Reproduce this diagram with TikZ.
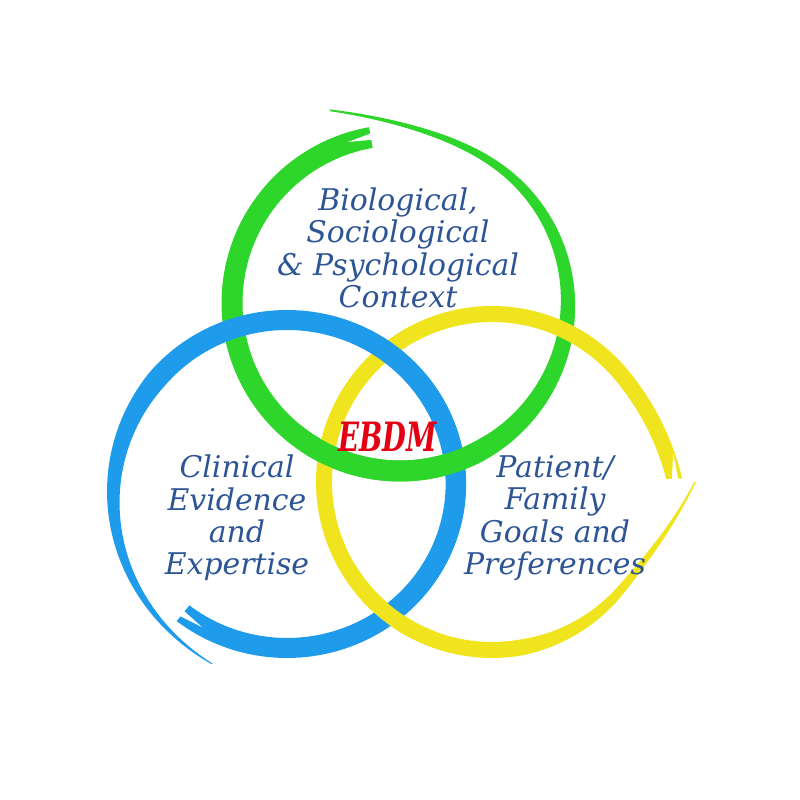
\documentclass[tikz,border=0pt]{standalone}
\usepackage{fontspec}
\usepackage{graphicx}
\newfontfamily\handfont{DejaVu Serif}
\definecolor{ringgreen}{RGB}{46,214,44}
\definecolor{ringblue}{RGB}{30,155,235}
\definecolor{ringyellow}{RGB}{240,228,30}
\definecolor{textblue}{RGB}{45,85,150}
\definecolor{ebdmred}{RGB}{228,0,18}
% brush ring: colour, first angle, last angle (rr and ww set by the scope)
\newcommand{\brushstroke}[3]{%
  \fill[#1] plot[domain=#2:#3,samples=180] ({(rr(\x)+ww(\x)/2)*cos(\x)},{(rr(\x)+ww(\x)/2)*sin(\x)})
    -- plot[domain=#3:#2,samples=180] ({(rr(\x)-ww(\x)/2)*cos(\x)},{(rr(\x)-ww(\x)/2)*sin(\x)}) -- cycle;
  % split brush end
  \fill[white] ({#2-1}:{rr(#2)-0.025}) -- ({#2+8}:{rr(#2)+0.012}) -- ({#2-1}:{rr(#2)+0.045}) -- cycle;}

\begin{document}
\begin{tikzpicture}[
    greenring/.style={shift={(4.00,4.97)},
      declare function={rr(\t)=1.68+0.37*(max(0,\t-410)/60)^3; ww(\t)=0.21-0.19*max(0,\t-300)/170;}},
    bluering/.style={shift={(2.87,3.16)},xscale=1.03,
      declare function={rr(\t)=1.64+0.30*(max(0,\t-500)/108)^2; ww(\t)=0.20-0.19*max(0,\t-500)/108;}},
    yellowring/.style={shift={(4.92,3.18)},
      declare function={rr(\t)=1.68+0.15*(max(0,40-\t)/40)^2+0.35*(max(0,\t-320)/40)^2; ww(\t)=0.16-0.145*max(0,\t-280)/80;}},
    ringtext/.style={font=\handfont\itshape\fontsize{8.5}{9.2}\selectfont, text=textblue, align=center},
    ebdm/.style={font=\handfont\bfseries\itshape\fontsize{11.5}{12}\selectfont, text=ebdmred}
  ]
    \useasboundingbox[fill=white] (0,0) rectangle (8,8);
    %% green ring (top)
    \begin{scope}[greenring]
        \brushstroke{ringgreen}{100}{470}
    \end{scope}
    %% yellow ring (right)
    \begin{scope}[yellowring]
        \brushstroke{ringyellow}{1}{360}
    \end{scope}
    %% blue ring (left)
    \begin{scope}[bluering]
        \brushstroke{ringblue}{232}{608}
    \end{scope}
    %% green over blue and yellow at the bottom of the green ring
    \begin{scope}
        \clip (3.0,3.1) rectangle (4.85,3.85);
        \begin{scope}[greenring]
            \brushstroke{ringgreen}{100}{470}
        \end{scope}
    \end{scope}
    %% yellow over blue at the bottom
    \begin{scope}
        \clip (3.55,1.6) rectangle (4.35,2.4);
        \begin{scope}[yellowring]
            \brushstroke{ringyellow}{1}{360}
        \end{scope}
    \end{scope}
    %% texts
    \node[ringtext] (context) at (3.98,5.52) {Biological,\\Sociological\\\& Psychological\\Context};
    \node[ringtext] (clinical) at (2.37,2.82) {Clinical\\Evidence\\and\\Expertise};
    \node[ringtext] (patient) at (5.55,2.82) {Patient/\\Family\\Goals and\\Preferences};
    \node[ebdm] (ebdmlabel) at (3.88,3.63) {\scalebox{0.68}[1]{EBDM}};
\end{tikzpicture}
\end{document}
